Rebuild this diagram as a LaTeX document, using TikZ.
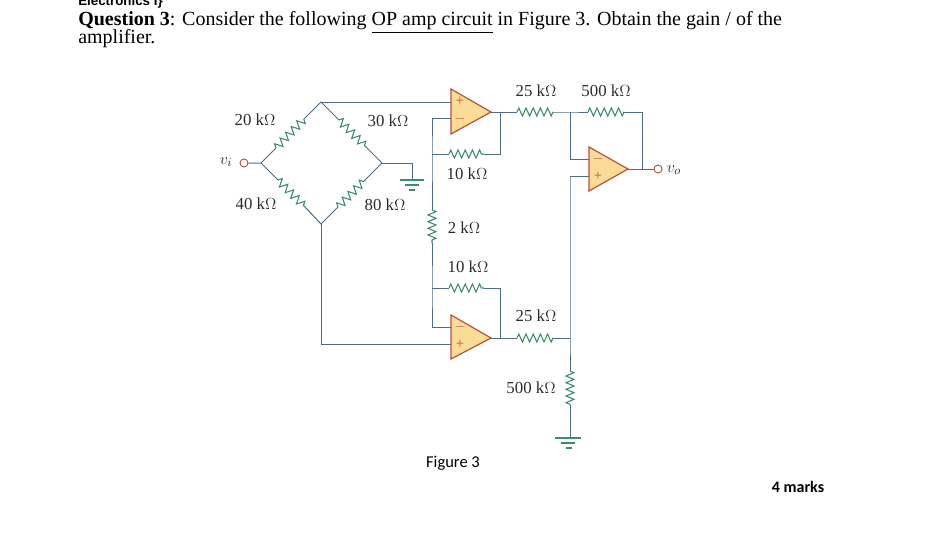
\documentclass[tikz,border=0pt]{standalone}
\usepackage{fontspec}
\setmainfont{Liberation Serif}
\newfontfamily\headfont{Liberation Sans}
\newfontfamily\calfont{Carlito}
\usetikzlibrary{decorations.pathmorphing}
\definecolor{wirecol}{HTML}{4F6B85}
\definecolor{rescol}{HTML}{3C8C6C}
\definecolor{ampfill}{HTML}{FBDC96}
\definecolor{ampline}{HTML}{B5523A}
\definecolor{labcol}{HTML}{2B2B2B}
\tikzset{
  wire/.style={draw=wirecol,line width=0.75pt,line join=miter},
  resistor/.style={draw=rescol,line width=0.8pt,decorate,decoration={zigzag,segment length=#1,amplitude=3pt}},
  resistor/.default=5.4pt,
  opamp/.style={draw=ampline,fill=ampfill,line width=0.9pt,line join=miter},
  term/.style={circle,draw=ampline,fill=white,line width=0.7pt,minimum size=6pt,inner sep=0pt},
  lab/.style={text=labcol,font=\fontsize{12.6}{14}\selectfont,inner sep=0pt},
  sign/.style={text=ampline,font=\fontsize{11}{11}\selectfont,inner sep=0pt},
  qtext/.style={anchor=base west,inner sep=0pt,text=black,font=\fontsize{15}{17}\selectfont},
  gnd/.style={draw=rescol,line width=0.8pt}
}
\begin{document}
\begin{tikzpicture}[x=0.75pt,y=-0.75pt]
\useasboundingbox (0,0) rectangle (938,553);
% text block
\node[anchor=base west,inner sep=0pt,font=\headfont\bfseries\fontsize{10}{12}\selectfont] (hd) at (78,6) {Electronics I\}};
\node[qtext] (q1) at (78,26) {\textbf{Question 3}: Consider the following \underline{OP amp circuit} in Figure 3. Obtain the gain / of the};
\node[qtext] (q2) at (78,43) {amplifier.};
\node[inner sep=0pt,font=\calfont\fontsize{12.4}{14}\selectfont] (fig) at (453,463) {Figure 3};
\node[inner sep=0pt,font=\calfont\bfseries\fontsize{12}{14}\selectfont] (marks) at (798,487) {4 marks};
% bridge
\coordinate (L) at (261,163); \coordinate (T) at (321,102);
\coordinate (R) at (382,163); \coordinate (B) at (321,224);
\node[term] (vi) at (244,163) {};
\node[lab] (vilab) at (226,162) {$v_i$};
\coordinate (r1a) at (276,148); \coordinate (r1b) at (304,119);
\coordinate (r2a) at (339,120); \coordinate (r2b) at (366,147);
\coordinate (r3a) at (278,180); \coordinate (r3b) at (305,207);
\coordinate (r4a) at (338,207); \coordinate (r4b) at (365,180);
\draw[wire] (vi) -- (L) -- (r1a) (r1b) -- (T) -- (r2a) (r2b) -- (R) -- (r4b) (r4a) -- (B) -- (r3b) (r3a) -- (L);
\draw[resistor=6pt] (r1a) -- (r1b);
\draw[resistor=6pt] (r2a) -- (r2b);
\draw[resistor=6pt] (r3a) -- (r3b);
\draw[resistor=6pt] (r4a) -- (r4b);
\node[lab] at (255,120) {20 k$\Omega$};
\node[lab] at (388,121) {30 k$\Omega$};
\node[lab] at (256,204) {40 k$\Omega$};
\node[lab] at (385,205) {80 k$\Omega$};
% ground 1
\coordinate (g1) at (412,180);
\draw[wire] (R) -- (412,163) -- (g1);
\draw[gnd] (400,180) -- (424,180) (405,185) -- (419,185) (409,190) -- (415,190);
% amp 1
\coordinate (a1p) at (451,102); \coordinate (a1m) at (451,118); \coordinate (a1o) at (491,112);
\coordinate (j1) at (432,154); \coordinate (r5a) at (449,154); \coordinate (r5b) at (484,154);
\coordinate (f1) at (500,154); \coordinate (o1) at (500,112);
\coordinate (r6a) at (517,112); \coordinate (r6b) at (553,112); \coordinate (n1) at (570,112);
\coordinate (r7a) at (588,112); \coordinate (r7b) at (624,112); \coordinate (c1) at (642,112);
\coordinate (r8a) at (432,210); \coordinate (r8b) at (432,243);
\draw[wire] (T) -- (a1p);
\draw[wire] (a1m) -- (432,118) -- (j1) -- (r8a);
\draw[wire] (j1) -- (r5a) (r5b) -- (f1) -- (o1);
\draw[wire] (a1o) -- (r6a) (r6b) -- (n1) -- (r7a) (r7b) -- (c1);
\draw[resistor] (r5a) -- (r5b);
\draw[resistor] (r6a) -- (r6b);
\draw[resistor] (r7a) -- (r7b);
\draw[resistor=5pt] (r8a) -- (r8b);
\draw[opamp] (451,89) -- (491,112) -- (451,134) -- cycle;
\node[sign] at (460,101) {+};
\node[sign] at (460,119) {$-$};
\node[lab] at (536,91) {25 k$\Omega$};
\node[lab] at (606,91) {500 k$\Omega$};
\node[lab] at (467,174) {10 k$\Omega$};
\node[lab] at (464,228) {2 k$\Omega$};
% amp 3
\coordinate (a3m) at (589,159); \coordinate (a3p) at (589,176); \coordinate (a3o) at (628,169);
\coordinate (j3) at (570,176);
\node[term] (vo) at (658,169) {};
\node[lab] (volab) at (674,170) {$v_o$};
\draw[wire] (n1) -- (570,159) -- (a3m);
\draw[wire] (a3p) -- (j3);
\draw[wire] (a3o) -- (vo);
\draw[wire] (c1) -- (642,169);
\draw[opamp] (589,147) -- (628,169) -- (589,191) -- cycle;
\node[sign] at (598,159) {$-$};
\node[sign] at (598,176) {+};
% amp 2
\coordinate (a2m) at (451,327); \coordinate (a2p) at (451,344); \coordinate (a2o) at (491,338);
\coordinate (j2) at (432,288); \coordinate (r9a) at (449,288); \coordinate (r9b) at (484,288);
\coordinate (f2) at (500,288); \coordinate (o2) at (500,338);
\coordinate (r10a) at (517,338); \coordinate (r10b) at (553,338); \coordinate (n2) at (570,338);
\coordinate (r11a) at (570,371); \coordinate (r11b) at (570,405);
\draw[wire] (r8b) -- (j2) -- (432,327) -- (a2m);
\draw[wire] (j2) -- (r9a) (r9b) -- (f2) -- (o2);
\draw[wire] (a2p) -- (321,344) -- (B);
\draw[wire] (a2o) -- (r10a) (r10b) -- (n2);
\draw[wire] (j3) -- (n2) -- (r11a) (r11b) -- (570,438);
\draw[resistor] (r9a) -- (r9b);
\draw[resistor] (r10a) -- (r10b);
\draw[resistor=5pt] (r11a) -- (r11b);
\draw[opamp] (451,315) -- (491,338) -- (451,359) -- cycle;
\node[sign] at (460,327) {$-$};
\node[sign] at (460,344) {+};
\node[lab] at (468,267) {10 k$\Omega$};
\node[lab] at (536,316) {25 k$\Omega$};
\node[lab] at (531,388) {500 k$\Omega$};
% ground 2
\draw[gnd] (555,438) -- (581,438) (561,443) -- (575,443) (566,448) -- (572,448);
\end{tikzpicture}
\end{document}
